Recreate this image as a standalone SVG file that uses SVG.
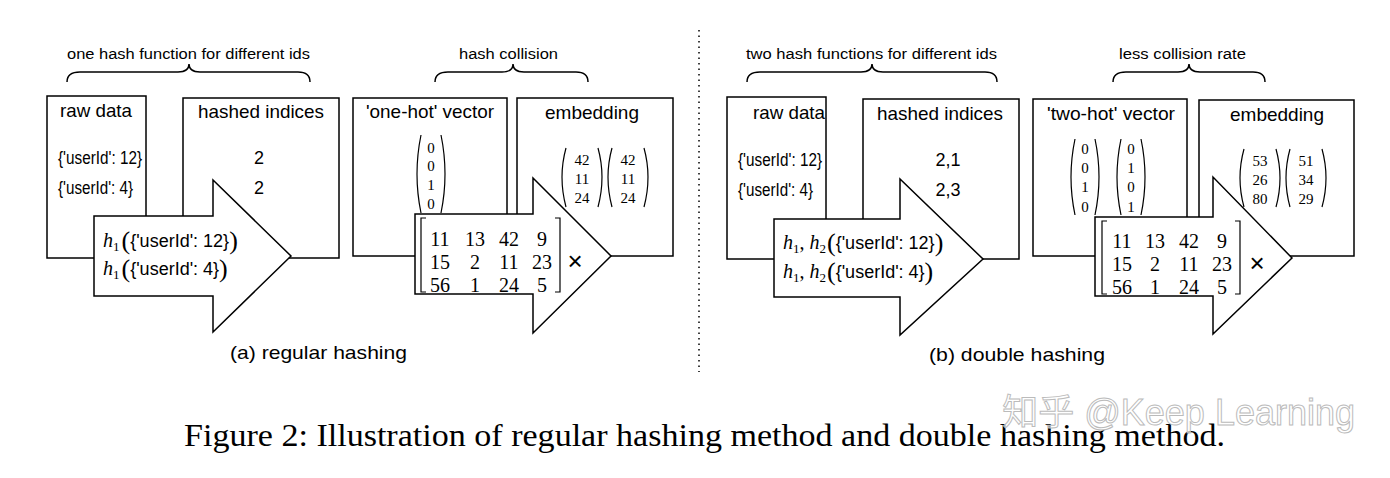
<svg xmlns="http://www.w3.org/2000/svg" width="1390" height="478" viewBox="0 0 1390 478">
<style>
.box{fill:#fff;stroke:#000;stroke-width:1.5}
.ln{fill:none;stroke:#000;stroke-width:1.5}
.pr{fill:none;stroke:#000;stroke-width:1.2}
.s{font-family:"Liberation Sans",Arial,sans-serif;fill:#000}
.sm{font-family:"Liberation Serif","Times New Roman",serif;fill:#000}
</style>
<rect width="1390" height="478" fill="#fff"/>
<g id="panel-a">
 <g id="brace-a1"><path class="ln" d="M67,82 Q67,72 80,72 L178,72 Q189,72 189,64 Q189,72 200,72 L298,72 Q310,72 310,82"/>
 <text class="s" x="67" y="59" font-size="15.5" textLength="243" lengthAdjust="spacingAndGlyphs">one hash function for different ids</text></g>
 <g id="brace-a2"><path class="ln" d="M435,82 Q435,72 448,72 L502,72 Q513,72 513,64 Q513,72 524,72 L576,72 Q588,72 588,82"/>
 <text class="s" x="459" y="59" font-size="15.5" textLength="99" lengthAdjust="spacingAndGlyphs">hash collision</text></g>
 <g id="raw-a"><rect class="box" x="47" y="96" width="99" height="162"/>
 <text class="s" x="60" y="117" font-size="18.5" textLength="72" lengthAdjust="spacingAndGlyphs">raw data</text>
 <text class="s" x="58" y="164" font-size="18" textLength="84" lengthAdjust="spacingAndGlyphs">{'userId': 12}</text>
 <text class="s" x="58" y="194" font-size="18" textLength="75" lengthAdjust="spacingAndGlyphs">{'userId': 4}</text></g>
 <g id="hashed-a"><rect class="box" x="183" y="98" width="156" height="160"/>
 <text class="s" x="198" y="118" font-size="18.5" textLength="126" lengthAdjust="spacingAndGlyphs">hashed indices</text>
 <text class="s" x="259" y="164" font-size="18" text-anchor="middle">2</text>
 <text class="s" x="259" y="194" font-size="18" text-anchor="middle">2</text></g>
 <g id="arrow-a1"><polygon class="box" points="94,216 213,216 213,180 291,256 213,332 213,296 94,296"/>
 <text x="103" y="247" font-size="18" class="s"><tspan class="sm" font-style="italic" font-size="20">h</tspan><tspan class="sm" font-size="13" dy="4">1</tspan><tspan class="sm" font-size="26" dy="-2" dx="2">(</tspan><tspan dy="-2">{'userId': 12}</tspan><tspan class="sm" font-size="26" dy="2">)</tspan></text>
 <text x="103" y="275" font-size="18" class="s"><tspan class="sm" font-style="italic" font-size="20">h</tspan><tspan class="sm" font-size="13" dy="4">1</tspan><tspan class="sm" font-size="26" dy="-2" dx="2">(</tspan><tspan dy="-2">{'userId': 4}</tspan><tspan class="sm" font-size="26" dy="2">)</tspan></text></g>
 <g id="onehot-a"><rect class="box" x="353" y="98" width="154" height="158"/>
 <text class="s" x="366" y="118" font-size="18.5" textLength="128" lengthAdjust="spacingAndGlyphs">'one-hot' vector</text>
 <path class="pr" d="M421,135 Q413,174 421,213 M441,135 Q449,174 441,213"/>
 <g class="sm" font-size="15" text-anchor="middle"><text x="431" y="153">0</text><text x="431" y="171">0</text><text x="431" y="190">1</text><text x="431" y="209">0</text></g></g>
 <g id="embed-a"><rect class="box" x="517" y="98" width="156" height="158"/>
 <text class="s" x="545" y="119" font-size="18.5" textLength="94" lengthAdjust="spacingAndGlyphs">embedding</text>
 <path class="pr" d="M566,148 Q558,177 566,207 M598,148 Q606,177 598,207 M612,148 Q604,177 612,207 M644,148 Q652,177 644,207"/>
 <g class="sm" font-size="15" text-anchor="middle"><text x="582" y="165">42</text><text x="582" y="184">11</text><text x="582" y="203">24</text><text x="628" y="165">42</text><text x="628" y="184">11</text><text x="628" y="203">24</text></g></g>
 <g id="arrow-a2"><polygon class="box" points="415,214 533,214 533,178 611,256 533,333 533,294 415,294"/>
 <path class="pr" d="M426,218 L421,218 L421,292 L426,292 M555,218 L560,218 L560,292 L555,292"/>
 <g class="sm" font-size="20" text-anchor="middle"><text x="440" y="246">11</text><text x="475" y="246">13</text><text x="509" y="246">42</text><text x="542" y="246">9</text>
 <text x="440" y="269">15</text><text x="475" y="269">2</text><text x="509" y="269">11</text><text x="542" y="269">23</text>
 <text x="440" y="292">56</text><text x="475" y="292">1</text><text x="509" y="292">24</text><text x="542" y="292">5</text></g>
 <text class="s" x="575" y="270" font-size="26" text-anchor="middle">×</text></g>
 <text class="s" x="230" y="359" font-size="19" textLength="177" lengthAdjust="spacingAndGlyphs">(a) regular hashing</text>
</g>
<g id="divider"><line x1="699" y1="30" x2="699" y2="372" stroke="#000" stroke-width="1.5" stroke-dasharray="1.5,4"/></g>
<g id="panel-b">
 <g id="brace-b1"><path class="ln" d="M747,82 Q747,72 760,72 L861,72 Q872,72 872,64 Q872,72 883,72 L985,72 Q997,72 997,82"/>
 <text class="s" x="746" y="59" font-size="15.5" textLength="251" lengthAdjust="spacingAndGlyphs">two hash functions for different ids</text></g>
 <g id="brace-b2"><path class="ln" d="M1113,82 Q1113,72 1126,72 L1178,72 Q1189,72 1189,64 Q1189,72 1200,72 L1253,72 Q1265,72 1265,82"/>
 <text class="s" x="1119" y="59" font-size="15.5" textLength="127" lengthAdjust="spacingAndGlyphs">less collision rate</text></g>
 <g id="raw-b"><rect class="box" x="727" y="97" width="99" height="162"/>
 <text class="s" x="753" y="119" font-size="18.5" textLength="72" lengthAdjust="spacingAndGlyphs">raw data</text>
 <text class="s" x="738" y="166" font-size="18" textLength="84" lengthAdjust="spacingAndGlyphs">{'userId': 12}</text>
 <text class="s" x="738" y="196" font-size="18" textLength="75" lengthAdjust="spacingAndGlyphs">{'userId': 4}</text></g>
 <g id="hashed-b"><rect class="box" x="863" y="99" width="156" height="160"/>
 <text class="s" x="877" y="120" font-size="18.5" textLength="126" lengthAdjust="spacingAndGlyphs">hashed indices</text>
 <text class="s" x="948" y="166" font-size="18" text-anchor="middle">2,1</text>
 <text class="s" x="948" y="196" font-size="18" text-anchor="middle">2,3</text></g>
 <g id="arrow-b1"><polygon class="box" points="774,219 900,219 900,179 983,259 900,335 900,297 774,297"/>
 <text x="783" y="249" font-size="18" class="s"><tspan class="sm" font-style="italic" font-size="20">h</tspan><tspan class="sm" font-size="13" dy="4">1</tspan><tspan class="sm" font-size="20" dy="-4">, </tspan><tspan class="sm" font-style="italic" font-size="20">h</tspan><tspan class="sm" font-size="13" dy="4">2</tspan><tspan class="sm" font-size="26" dy="-2" dx="1">(</tspan><tspan dy="-2">{'userId': 12}</tspan><tspan class="sm" font-size="26" dy="2">)</tspan></text>
 <text x="783" y="278" font-size="18" class="s"><tspan class="sm" font-style="italic" font-size="20">h</tspan><tspan class="sm" font-size="13" dy="4">1</tspan><tspan class="sm" font-size="20" dy="-4">, </tspan><tspan class="sm" font-style="italic" font-size="20">h</tspan><tspan class="sm" font-size="13" dy="4">2</tspan><tspan class="sm" font-size="26" dy="-2" dx="1">(</tspan><tspan dy="-2">{'userId': 4}</tspan><tspan class="sm" font-size="26" dy="2">)</tspan></text></g>
 <g id="twohot-b"><rect class="box" x="1033" y="99" width="154" height="157"/>
 <text class="s" x="1047" y="120" font-size="18.5" textLength="128" lengthAdjust="spacingAndGlyphs">'two-hot' vector</text>
 <path class="pr" d="M1075,139 Q1067,177 1075,215 M1095,139 Q1103,177 1095,215 M1121,139 Q1113,177 1121,215 M1141,139 Q1149,177 1141,215"/>
 <g class="sm" font-size="15" text-anchor="middle"><text x="1085" y="154">0</text><text x="1085" y="173">0</text><text x="1085" y="192">1</text><text x="1085" y="212">0</text>
 <text x="1131" y="154">0</text><text x="1131" y="173">1</text><text x="1131" y="192">0</text><text x="1131" y="212">1</text></g></g>
 <g id="embed-b"><rect class="box" x="1199" y="100" width="155" height="156"/>
 <text class="s" x="1230" y="121" font-size="18.5" textLength="94" lengthAdjust="spacingAndGlyphs">embedding</text>
 <path class="pr" d="M1244,149 Q1236,178 1244,207 M1276,149 Q1284,178 1276,207 M1290,149 Q1282,178 1290,207 M1322,149 Q1330,178 1322,207"/>
 <g class="sm" font-size="15" text-anchor="middle"><text x="1260" y="166">53</text><text x="1260" y="185">26</text><text x="1260" y="204">80</text><text x="1306" y="166">51</text><text x="1306" y="185">34</text><text x="1306" y="204">29</text></g></g>
 <g id="arrow-b2"><polygon class="box" points="1095,217 1213,217 1213,177 1292,258 1213,334 1213,296 1095,296"/>
 <path class="pr" d="M1107,221 L1102,221 L1102,294 L1107,294 M1235,221 L1240,221 L1240,294 L1235,294"/>
 <g class="sm" font-size="20" text-anchor="middle"><text x="1122" y="248">11</text><text x="1155" y="248">13</text><text x="1189" y="248">42</text><text x="1222" y="248">9</text>
 <text x="1122" y="271">15</text><text x="1155" y="271">2</text><text x="1189" y="271">11</text><text x="1222" y="271">23</text>
 <text x="1122" y="294">56</text><text x="1155" y="294">1</text><text x="1189" y="294">24</text><text x="1222" y="294">5</text></g>
 <text class="s" x="1257" y="272" font-size="26" text-anchor="middle">×</text></g>
 <text class="s" x="929" y="361" font-size="19" textLength="176" lengthAdjust="spacingAndGlyphs">(b) double hashing</text>
</g>
<text class="sm" x="184" y="446" font-size="31" textLength="1041" lengthAdjust="spacingAndGlyphs">Figure 2: Illustration of regular hashing method and double hashing method.</text>
<text x="1355" y="425" font-size="36" text-anchor="end" fill="#ffffff" fill-opacity="0.6" stroke="#bbb" stroke-width="1" font-family="'Liberation Sans','Noto Sans CJK SC',sans-serif">知乎 @Keep Learning</text>
</svg>
